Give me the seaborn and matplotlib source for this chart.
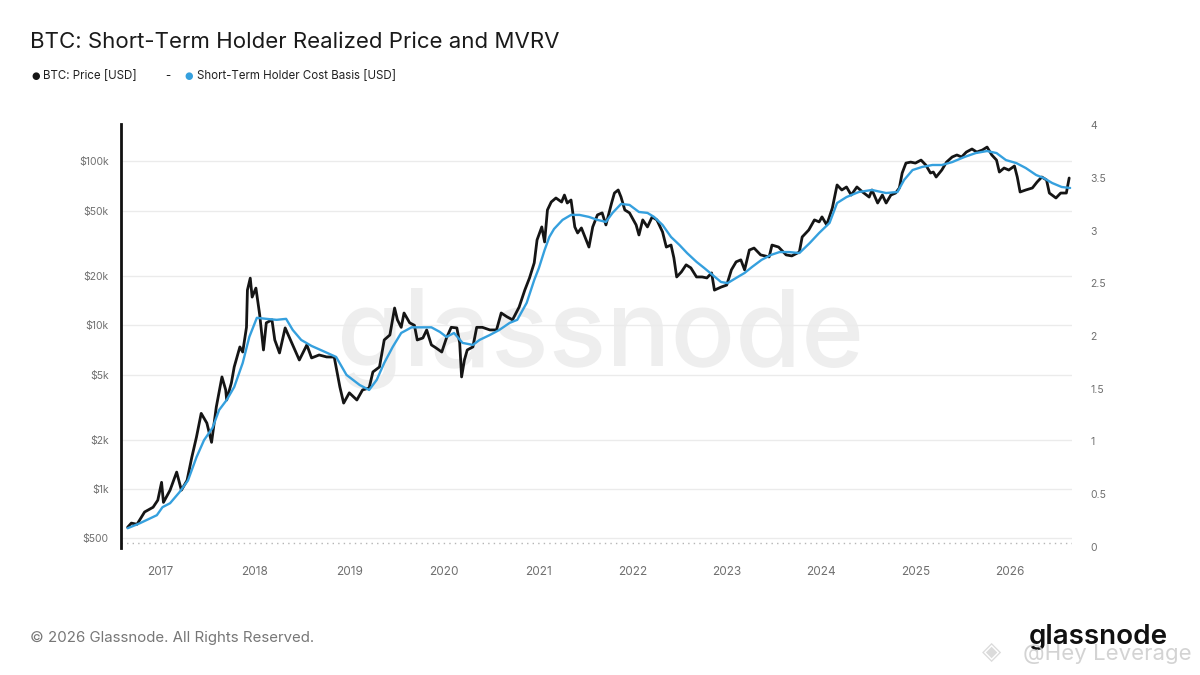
import numpy as np
import pandas as pd
import matplotlib
matplotlib.use("Agg")
import matplotlib.pyplot as plt
import seaborn as sns

# ---------------- data ----------------
price_t = [2016.65, 2016.69, 2016.75, 2016.83, 2016.92, 2016.97, 2017.01, 2017.03, 2017.10, 2017.17,
           2017.22, 2017.28, 2017.33, 2017.38, 2017.43, 2017.49, 2017.54, 2017.59, 2017.65, 2017.69,
           2017.70, 2017.75, 2017.78, 2017.84, 2017.87, 2017.91, 2017.92, 2017.95, 2017.97, 2018.01,
           2018.05, 2018.09, 2018.12, 2018.18, 2018.21, 2018.26, 2018.32, 2018.39, 2018.47, 2018.55,
           2018.60, 2018.68, 2018.76, 2018.84, 2018.90, 2018.94, 2019.00, 2019.08, 2019.14, 2019.21,
           2019.25, 2019.32, 2019.37, 2019.43, 2019.48, 2019.51, 2019.55, 2019.58, 2019.64, 2019.69,
           2019.72, 2019.78, 2019.82, 2019.87, 2019.92, 2019.98, 2020.03, 2020.08, 2020.14, 2020.17,
           2020.19, 2020.22, 2020.25, 2020.31, 2020.35, 2020.41, 2020.49, 2020.56, 2020.61, 2020.67,
           2020.73, 2020.80, 2020.86, 2020.91, 2020.96, 2020.99, 2021.04, 2021.07, 2021.10, 2021.14,
           2021.19, 2021.25, 2021.28, 2021.31, 2021.35, 2021.39, 2021.42, 2021.46, 2021.51, 2021.54,
           2021.58, 2021.63, 2021.68, 2021.72, 2021.78, 2021.81, 2021.85, 2021.88, 2021.92, 2021.97,
           2022.04, 2022.07, 2022.11, 2022.16, 2022.21, 2022.26, 2022.32, 2022.36, 2022.41, 2022.44,
           2022.47, 2022.52, 2022.57, 2022.62, 2022.68, 2022.74, 2022.79, 2022.84, 2022.87, 2022.94,
           2023.00, 2023.05, 2023.10, 2023.15, 2023.19, 2023.24, 2023.29, 2023.36, 2023.45, 2023.48,
           2023.55, 2023.63, 2023.69, 2023.77, 2023.80, 2023.87, 2023.93, 2023.98, 2024.01, 2024.06,
           2024.12, 2024.17, 2024.22, 2024.27, 2024.32, 2024.38, 2024.44, 2024.51, 2024.54, 2024.60,
           2024.65, 2024.69, 2024.74, 2024.79, 2024.83, 2024.86, 2024.90, 2024.95, 2025.00, 2025.06,
           2025.11, 2025.16, 2025.19, 2025.22, 2025.28, 2025.33, 2025.39, 2025.44, 2025.49, 2025.54,
           2025.60, 2025.65, 2025.71, 2025.76, 2025.81, 2025.86, 2025.89, 2025.94, 2025.99, 2026.05,
           2026.08, 2026.11, 2026.17, 2026.24, 2026.29, 2026.34, 2026.39, 2026.42, 2026.49, 2026.54,
           2026.60, 2026.63]
price_usd = [585, 620, 610, 725, 775, 856, 1100, 830, 985, 1270,
             985, 1130, 1560, 2080, 2900, 2530, 1930, 3170, 4840, 4030,
             3500, 4450, 5570, 7380, 6870, 9720, 16400, 19400, 14870, 16870,
             11600, 7070, 10350, 10800, 8140, 6780, 9640, 7810, 6140, 7590,
             6320, 6590, 6410, 6400, 4200, 3350, 3870, 3500, 4030, 4145,
             5190, 5570, 8140, 8730, 12750, 10800, 9720, 11890, 10350, 10000,
             8140, 8370, 9370, 7590, 7270, 6870, 8370, 9720, 9640, 7810,
             4840, 6140, 7070, 7380, 9720, 9720, 9370, 9370, 11890, 11280,
             10800, 12930, 16400, 19460, 24060, 33200, 39860, 32280, 50600, 56580,
             59870, 56580, 62400, 55790, 58200, 39860, 36620, 39290, 33200, 30040,
             39860, 47200, 48550, 41000, 55790, 64190, 67000, 60660, 50600, 48550,
             41000, 35600, 44000, 39860, 45890, 44000, 37140, 30040, 30900, 25820,
             19730, 21190, 23400, 22420, 19730, 19730, 19460, 20880, 16400, 17110,
             17600, 21800, 24400, 25100, 21800, 28800, 29620, 26900, 26150, 30900,
             30040, 26900, 26520, 28000, 34610, 38200, 44000, 42780, 45890, 41000,
             52050, 71900, 67000, 69900, 62400, 69900, 65140, 60660, 67000, 55790,
             62400, 55790, 62400, 64190, 68930, 85060, 97800, 99160, 97800, 102000,
             95200, 85060, 86240, 80400, 88700, 99160, 106550, 109600, 106550, 114200,
             119200, 114200, 117500, 122500, 109600, 102000, 86240, 91240, 88700, 93870,
             80400, 65140, 67000, 68930, 74960, 80400, 77100, 64190, 59870, 64190,
             64190, 79300]

sth_t = [2016.65, 2016.78, 2016.96, 2017.02, 2017.10, 2017.20, 2017.29, 2017.38, 2017.46, 2017.55,
         2017.62, 2017.70, 2017.78, 2017.87, 2017.94, 2018.02, 2018.12, 2018.23, 2018.33, 2018.40,
         2018.49, 2018.60, 2018.72, 2018.86, 2018.97, 2019.11, 2019.21, 2019.29, 2019.37, 2019.46,
         2019.55, 2019.66, 2019.78, 2019.87, 2019.96, 2020.03, 2020.11, 2020.20, 2020.31, 2020.38,
         2020.49, 2020.59, 2020.70, 2020.78, 2020.88, 2020.96, 2021.01, 2021.07, 2021.12, 2021.17,
         2021.26, 2021.35, 2021.44, 2021.54, 2021.63, 2021.72, 2021.79, 2021.88, 2021.97, 2022.07,
         2022.16, 2022.23, 2022.32, 2022.41, 2022.50, 2022.58, 2022.68, 2022.76, 2022.85, 2022.94,
         2023.01, 2023.10, 2023.19, 2023.27, 2023.37, 2023.47, 2023.56, 2023.66, 2023.77, 2023.88,
         2023.98, 2024.09, 2024.17, 2024.27, 2024.40, 2024.54, 2024.69, 2024.81, 2024.88, 2024.97,
         2025.07, 2025.18, 2025.28, 2025.39, 2025.52, 2025.64, 2025.76, 2025.86, 2025.96, 2026.07,
         2026.17, 2026.28, 2026.36, 2026.45, 2026.55, 2026.64]
sth_usd = [577, 619, 693, 776, 820, 958, 1130, 1565, 1990, 2366,
           3040, 3500, 4200, 5890, 8490, 11110, 10950, 10800, 10950, 9370,
           8140, 7480, 6970, 6410, 4980, 4320, 4030, 4640, 5890, 7380,
           8980, 9720, 9720, 9720, 9110, 8490, 8980, 7810, 7590, 8140,
           8730, 9370, 10350, 10800, 13710, 18900, 22420, 28800, 34610, 38740,
           44000, 47200, 47200, 45890, 44000, 42780, 48550, 55070, 54300, 49190,
           48550, 45890, 41000, 34610, 30900, 27610, 24400, 22420, 20300, 18370,
           18100, 19460, 20880, 22740, 25100, 26900, 28000, 28000, 27610, 31780,
           36620, 42170, 55790, 60660, 65140, 67000, 64190, 65140, 77100, 88700,
           92560, 95200, 95200, 99160, 106550, 112600, 115850, 112600, 102000, 97800,
           91240, 82700, 79300, 73900, 69900, 68930]

price_ticks = [500, 1000, 2000, 5000, 10000, 20000, 50000, 100000]
price_tick_labels = ["$500", "$1k", "$2k", "$5k", "$10k", "$20k", "$50k", "$100k"]
mvrv_ticks = [0, 0.5, 1, 1.5, 2, 2.5, 3, 3.5, 4]
mvrv_tick_labels = ["0", "0.5", "1", "1.5", "2", "2.5", "3", "3.5", "4"]
year_ticks = [2017, 2018, 2019, 2020, 2021, 2022, 2023, 2024, 2025, 2026]
baseline_mvrv = 0.04

title = "BTC: Short-Term Holder Realized Price and MVRV"
legend_price = "BTC: Price [USD]"
legend_sth = "Short-Term Holder Cost Basis [USD]"
footer = "\u00a9 2026 Glassnode. All Rights Reserved."

# ---------------- style ----------------
sns.set_style("white")
plt.rcParams['font.family'] = ['Inter', 'DejaVu Sans']

BLACK = "#151515"
BLUE = "#35a0de"
GREY_TXT = "#6f6f6f"
GRID = "#ebebeb"

price_df = pd.DataFrame({"year": price_t, "usd": price_usd})
sth_df = pd.DataFrame({"year": sth_t, "usd": sth_usd})

fig = plt.figure(figsize=(12, 6.75), dpi=100)
ax = fig.add_axes([121 / 1200, 1 - 548 / 675, (1072 - 121) / 1200, (548 - 124) / 675])

# watermark
ax.text(0.504, 0.432, "glassnode", transform=ax.transAxes, fontsize=77, color="#eeeeee",
        ha="center", va="baseline", zorder=0, fontweight="medium")

sns.lineplot(data=price_df, x="year", y="usd", ax=ax, color=BLACK, lw=2.0, zorder=4)
sns.lineplot(data=sth_df, x="year", y="usd", ax=ax, color=BLUE, lw=1.7, zorder=5)

ax.set_yscale("log")
ax.set_ylim(437, 169400)
ax.set_xlim(2016.58, 2026.66)
ax.set_yticks(price_ticks)
ax.set_yticklabels(price_tick_labels)
ax.yaxis.set_minor_locator(matplotlib.ticker.NullLocator())
ax.set_xticks(year_ticks)
ax.set_xticklabels([str(y) for y in year_ticks])
ax.set_xlabel("")
ax.set_ylabel("")
ax.grid(axis="y", color=GRID, lw=1, zorder=0)
ax.grid(axis="x", visible=False)
ax.tick_params(axis="y", length=0, pad=9, labelsize=7.5, labelcolor=GREY_TXT)
ax.tick_params(axis="x", length=6, width=1, color="#e2e2e2", pad=7, labelsize=8.5, labelcolor=GREY_TXT)
for s in ["top", "right", "bottom"]:
    ax.spines[s].set_visible(False)
ax.spines["left"].set_color("#111111")
ax.spines["left"].set_linewidth(2)
ax.set_facecolor("none")

ax2 = ax.twinx()
ax2.set_ylim(-0.0095, 4.0095)
ax2.set_yticks(mvrv_ticks)
ax2.set_yticklabels(mvrv_tick_labels)
ax2.axhline(baseline_mvrv, color="#b5b5b5", lw=1, ls=(0, (1, 3)), zorder=1)
ax2.tick_params(axis="y", length=0, pad=13, labelsize=7.5, labelcolor=GREY_TXT)
for s in ["top", "right", "bottom", "left"]:
    ax2.spines[s].set_visible(False)
ax2.grid(False)
ax.set_zorder(ax2.get_zorder() + 1)

# ---------------- texts ----------------
fig.text(30 / 1200, 1 - 42 / 675, title, fontsize=16, color="#1a1a1a", va="center", ha="left")

ly = 1 - 76 / 675
fig.text(31 / 1200, ly, "\u25cf", fontsize=7, color=BLACK, va="center", ha="left",
         family=["DejaVu Sans"])
fig.text(43 / 1200, ly, legend_price, fontsize=8.3, color="#222222", va="center", ha="left")
fig.text(165 / 1200, ly, "-", fontsize=8.3, color="#222222", va="center", ha="left")
fig.text(184 / 1200, ly, "\u25cf", fontsize=7, color=BLUE, va="center", ha="left",
         family=["DejaVu Sans"])
fig.text(197 / 1200, ly, legend_sth, fontsize=8.3, color="#222222", va="center", ha="left")

fig.text(30 / 1200, 1 - 638 / 675, footer, fontsize=10.8, color="#777777", va="center", ha="left")
fig.text(1168 / 1200, 1 - 637 / 675, "glassnode", fontsize=20, fontweight="semibold",
         color="#111111", va="center", ha="right")
fig.text(1192 / 1200, 1 - 654 / 675, "@Hey Leverage", fontsize=16, color="#cccccc",
         alpha=0.85, va="center", ha="right")
fig.text(992 / 1200, 1 - 652 / 675, "\u25c8", fontsize=18, color="#d5d5d5", alpha=0.85,
         va="center", ha="center", family=["DejaVu Sans"])

fig.savefig("out.png", dpi=100, facecolor="white")
